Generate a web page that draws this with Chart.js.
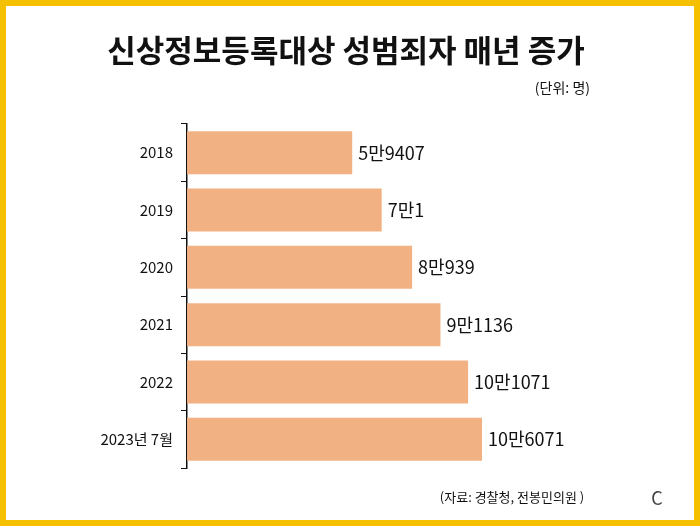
<!DOCTYPE html>
<html><head><meta charset="utf-8">
<script src="https://cdn.jsdelivr.net/npm/chart.js@4/dist/chart.umd.min.js"></script>
<style>body{margin:0;background:#fff}#w{width:700px;height:526px}</style></head>
<body><div id="w"><canvas id="c"></canvas></div>
<script>
const categories=['2018','2019','2020','2021','2022','2023년 7월'];
const values=[59407,70001,80939,91136,101071,106071];
const valueLabels=['5만9407','7만1','8만939','9만1136','10만1071','10만6071'];
const F='"Noto Sans CJK KR","Noto Sans",sans-serif';
const deco={id:'deco',
 beforeDraw(ch){const c=ch.ctx;c.save();c.fillStyle='#fff';c.fillRect(0,0,700,526);c.restore();},
 afterDraw(ch){const c=ch.ctx;c.save();
  c.strokeStyle='#F5C000';c.lineWidth=12;c.strokeRect(0,0,700,526);
  c.fillStyle='#111';c.textAlign='center';c.textBaseline='middle';
  c.font='bold 31px '+F;c.fillText('신상정보등록대상 성범죄자 매년 증가',346,50);
  c.font='14px '+F;c.textAlign='right';c.fillText('(단위: 명)',590,88);
  c.font='13px '+F;c.textAlign='center';c.fillText('(자료: 경찰청, 전봉민의원 )',512,497);
  c.font='18px '+F;c.fillStyle='#444';c.fillText('C',657,498);
  const m=ch.getDatasetMeta(0);c.font='18px '+F;c.fillStyle='#111';c.textAlign='left';
  m.data.forEach((b,i)=>c.fillText(valueLabels[i],b.x+6,b.y));
  c.restore();}};
new Chart(document.getElementById('c'),{type:'bar',
 data:{labels:categories,datasets:[{data:values,backgroundColor:'#F2B183',categoryPercentage:0.75,barPercentage:1}]},
 options:{indexAxis:'y',responsive:true,maintainAspectRatio:false,animation:false,
  layout:{padding:{top:124,bottom:58,right:68,left:0}},
  plugins:{legend:{display:false},tooltip:{enabled:false}},
  scales:{x:{display:false,min:0,max:160000},
   y:{afterFit:s=>{s.width=187;},border:{color:'#111',width:1.5},
    grid:{display:true,drawOnChartArea:false,tickLength:6,color:'#111',offset:true},
    ticks:{color:'#111',padding:8,font:{size:15,family:F}}}}},
 plugins:[deco]});
</script></body></html>
